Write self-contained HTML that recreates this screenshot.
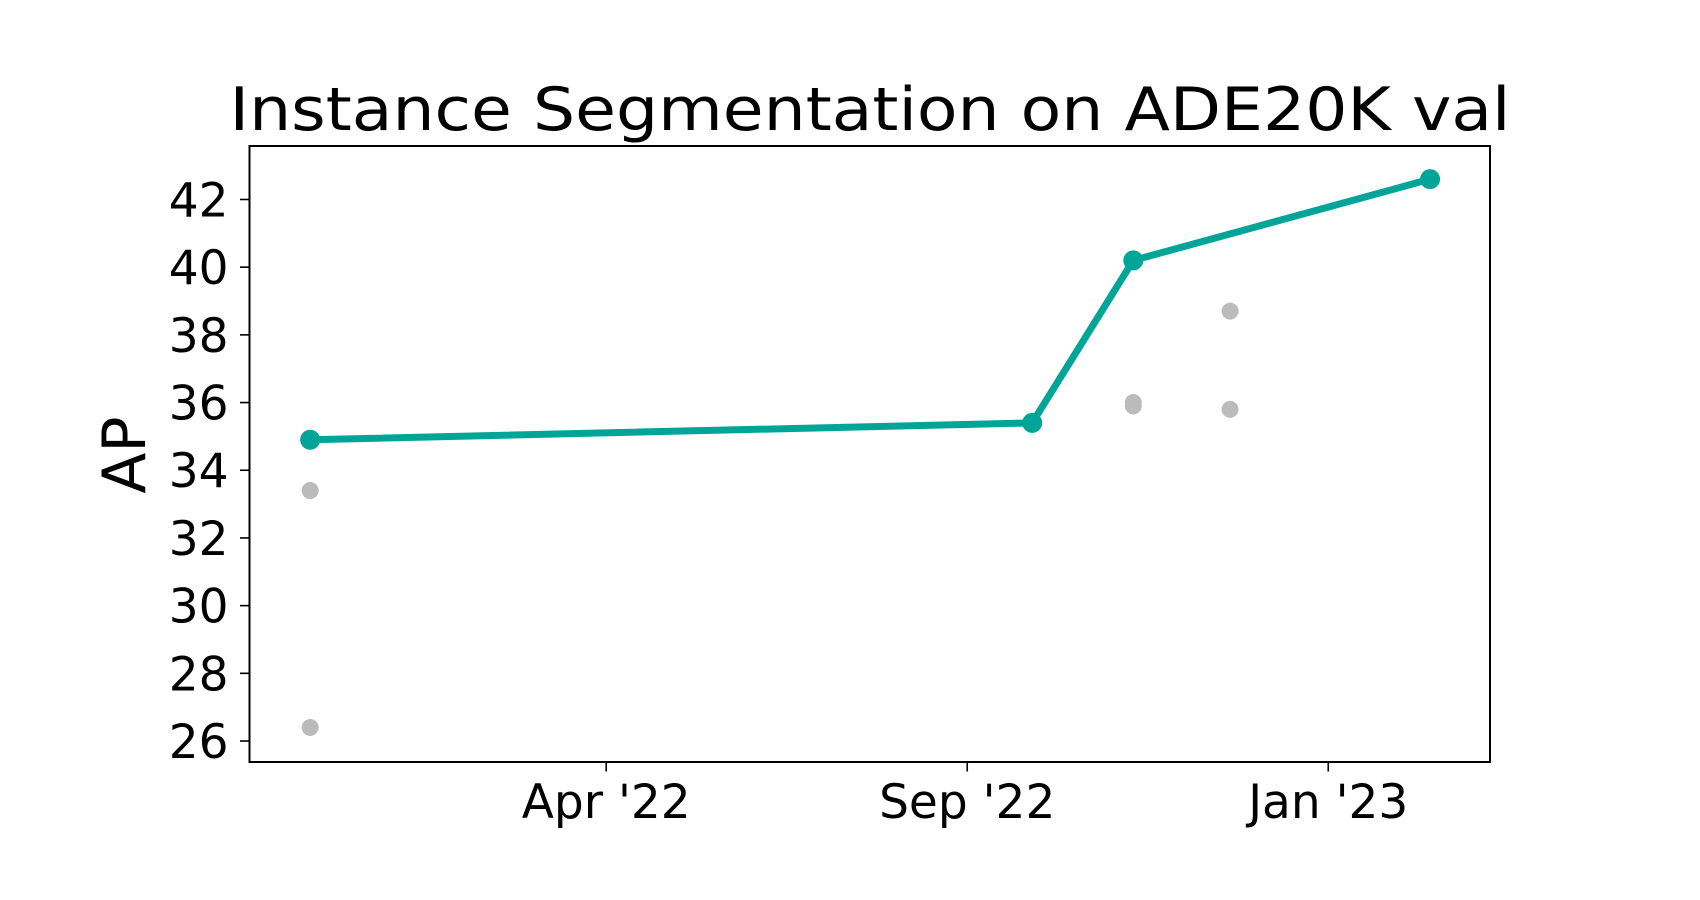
<!DOCTYPE html>
<html><head><meta charset="utf-8"><style>
html,body{margin:0;padding:0;background:#fff;}
svg{display:block;font-family:"DejaVu Sans","Liberation Sans",sans-serif;}
</style></head><body>
<svg id="chart" width="1700" height="900" viewBox="0 0 1700 900" xmlns="http://www.w3.org/2000/svg">
<rect width="1700" height="900" fill="#fff"/>
<text x="870" y="130" font-size="60" text-anchor="middle" textLength="1281" lengthAdjust="spacingAndGlyphs">Instance Segmentation on ADE20K val</text>
<text transform="translate(145,455) rotate(-90)" font-size="60" text-anchor="middle">AP</text>
<g id="plot"></g>
</svg>
<script>
const yTicks = [26, 28, 30, 32, 34, 36, 38, 40, 42];
const xTickVals = [3, 8, 13];
const xTickLabels = ["Apr '22", "Sep '22", "Jan '23"];
const bestX = [-1.1, 8.9, 10.3, 14.41];
const bestY = [34.9, 35.4, 40.2, 42.6];
const otherX = [-1.1, -1.1, 10.3, 10.3, 11.64, 11.64];
const otherY = [33.4, 26.4, 36.0, 35.9, 38.7, 35.8];

const L = 249.5, R = 1490, T = 146, B = 762;
const xMin = -1.94, xMax = 15.24, yMin = 25.38, yMax = 43.58;
function sx(v){ return L + (v - xMin) / (xMax - xMin) * (R - L); }
function sy(v){ return B - (v - yMin) / (yMax - yMin) * (B - T); }
const NS = "http://www.w3.org/2000/svg";
const g = document.getElementById('plot');
function mk(tag, attrs){ const e = document.createElementNS(NS, tag); for (const k in attrs) e.setAttribute(k, attrs[k]); g.appendChild(e); return e; }

otherX.forEach((x, i) => {
  const c = mk('circle', {cx: sx(x), cy: sy(otherY[i]), r: 8.5, fill: '#bbbbbb'});
  
  
});
const pts = bestX.map((x, i) => sx(x) + ',' + sy(bestY[i])).join(' ');
const line = mk('polyline', {points: pts, fill: 'none', stroke: '#00a597', 'stroke-width': 7, 'stroke-linejoin': 'round'});


bestX.forEach((x, i) => {
  const c = mk('circle', {cx: sx(x), cy: sy(bestY[i]), r: 10, fill: '#00a597'});
  
  
});

const frame = mk('rect', {x: L, y: T, width: R - L, height: B - T, fill: 'none', stroke: '#000', 'stroke-width': 2});



yTicks.forEach(v => {
  const y = sy(v);
  const t = mk('line', {x1: L - 9.5, x2: L, y1: y, y2: y, stroke: '#000', 'stroke-width': 1.6});
  
  
  const tx = mk('text', {x: L - 21, y: y + 17, 'font-size': 47, 'text-anchor': 'end'});
  tx.textContent = v;
  
  
});
xTickVals.forEach((v, i) => {
  const x = sx(v);
  const t = mk('line', {x1: x, x2: x, y1: B, y2: B + 9.5, stroke: '#000', 'stroke-width': 1.6});
  
  
  const tx = mk('text', {x: x, y: 818, 'font-size': 47, 'text-anchor': 'middle'});
  tx.textContent = xTickLabels[i];
  
  
});
</script>
</body></html>
